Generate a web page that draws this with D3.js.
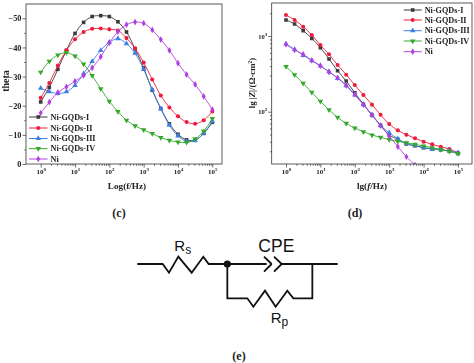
<!DOCTYPE html>
<html>
<head>
<meta charset="utf-8">
<script src="https://cdn.jsdelivr.net/npm/d3@7"></script>
<style>
  html, body { margin: 0; padding: 0; background: #fff; }
  svg { display: block; }
  text { font-family: "Liberation Serif", serif; font-weight: bold; fill: #222; }
  .circ text { font-family: "Liberation Sans", sans-serif; font-weight: normal; fill: #111; }
  .panel { filter: blur(0.35px); }
</style>
</head>
<body>
<div id="main"></div>
<script>
// frequencies, 4 points per decade
var freq = [1,1.78,3.16,5.62,10,17.8,31.6,56.2,100,178,316,562,1000,1780,3160,5620,10000,17800,31600,56200,100000];
var names = ["Ni-GQDs-I","Ni-GQDs-II","Ni-GQDs-III","Ni-GQDs-IV","Ni"];
var colors = ["#3a3a3a","#ee1c3c","#3b7fe6","#35a82c","#b23fe0"];
var shapes = [d3.symbolSquare, d3.symbolCircle, d3.symbolTriangle, "down", d3.symbolDiamond];

// panel c: theta
var thetaI = [-21.3,-26.3,-32.5,-39,-44.8,-48.6,-50.6,-50.9,-50.6,-48.8,-45.3,-39.5,-33,-25.3,-19,-13.8,-10.2,-8.3,-8.2,-10.5,-14.3];
var thetaII = [-22.7,-27.8,-33.8,-39,-42.8,-45.3,-46.4,-46.5,-46.2,-45.8,-43.2,-39.7,-34.8,-29,-23.5,-19.4,-16.4,-14.4,-13.8,-15,-18];
var thetaIII = [-26,-24.8,-24.2,-24.8,-27,-31,-35.2,-39,-41.8,-43,-41.3,-38,-32.5,-25.5,-19,-13.3,-9.6,-7.8,-8,-10.6,-14.6];
var thetaIV = [-31.5,-35.2,-37.4,-38.2,-37,-34.3,-30.3,-25.8,-21.5,-18,-15,-13.1,-11.7,-10.4,-9.1,-8.1,-7.5,-7.4,-8.6,-11.3,-15.6];
var thetaNi = [-17.5,-21.2,-24.5,-26.5,-28.4,-30.4,-33,-36.8,-41.6,-45.4,-47.8,-48.7,-48.3,-46,-42.7,-39,-34.6,-30.7,-27.3,-23.2,-18.7];

// panel d: |Z|
var zI = [1627,1441,1176,931,701,496,348,254,178,125,90.4,65.9,49.2,43.1,37.4,35.5,33.4,32.1,31.5,30.2,28.1];
var zII = [1895,1627,1328,1031,760,573,414,308,225,166,124,91,68.7,56.7,49.7,44.5,40.2,37,34.5,32.1,28.7];
var zIII = [784,667,555,472,402,338,276,221,166,125,90.4,65.9,52.7,44,38.1,35.5,33.4,32.1,31.5,30.4,28.7];
var zIV = [393,308,237,180,137,106,84,70,60.8,54.4,49.2,45.8,42.7,40.6,38.9,37,35.2,33.4,31.5,29.9,27.9];
var zNi = [776,653,573,477,406,334,281,223,169,124,90.4,65.3,47.7,34.5,25.4,19.7];

var xTicks = [1,10,100,1000,10000,100000];
var xExps = [0,1,2,3,4,5];
var thetaTicks = [0,-10,-20,-30,-40,-50];
var thetaMinor = [-5,-15,-25,-35,-45];
var zTicks = [100,1000];
var zExps = [2,3];

var svg = d3.select("#main").append("svg").attr("width", 474).attr("height", 363);

function minorLog(lo, hi) {
  var out = [];
  for (var e = lo; e < hi; e++) {
    for (var m = 2; m < 10; m++) out.push(m * Math.pow(10, e));
  }
  return out;
}

function pow10Label(sel, exps) {
  sel.each(function (d, i) {
    var t = d3.select(this).text("10");
    t.append("tspan").attr("dy", -3).attr("font-size", 5).text(exps[i]);
  });
}

function symbolFor(s, size) {
  if (s === "down") {
    return d3.symbol().type(d3.symbolTriangle).size(size)() ;
  }
  return d3.symbol().type(s).size(size)();
}

function drawPanel(id, box, x, y, series) {
  var g = svg.append("g").attr("class", "panel");
  var clipId = "clip" + id;
  g.append("clipPath").attr("id", clipId).append("rect")
    .attr("x", box.l).attr("y", box.t).attr("width", box.r - box.l).attr("height", box.b - box.t);

  var line = d3.line()
    .x(function (d) { return x(d[0]); })
    .y(function (d) { return y(d[1]); })
    .curve(d3.curveCatmullRom);

  var plot = g.append("g").attr("clip-path", "url(#" + clipId + ")");
  series.forEach(function (vals, k) {
    var pts = vals.map(function (v, i) { return [freq[i], v]; });
    plot.append("path").datum(pts)
      .attr("d", line).attr("fill", "none")
      .attr("stroke", colors[k]).attr("stroke-width", 0.9);
    plot.selectAll(".m" + k).data(pts).enter().append("path")
      .attr("d", symbolFor(shapes[k], 13))
      .attr("fill", colors[k])
      .attr("transform", function (d) {
        var flip = shapes[k] === "down" ? " scale(1,-1)" : "";
        return "translate(" + x(d[0]) + "," + y(d[1]) + ")" + flip;
      });
  });

  g.append("rect")
    .attr("x", box.l).attr("y", box.t).attr("width", box.r - box.l).attr("height", box.b - box.t)
    .attr("fill", "none").attr("stroke", "#333").attr("stroke-width", 0.8);
  return g;
}

function styleAxis(a, size) {
  a.select(".domain").remove();
  a.selectAll("line").attr("stroke", "#333").attr("stroke-width", 0.7);
  a.selectAll("text").attr("font-size", size).attr("font-family", '"Liberation Serif", serif').attr("font-weight", "bold").attr("fill", "#222");
}

function legend(g, lx, tx, ys) {
  names.forEach(function (n, k) {
    g.append("line").attr("x1", lx).attr("x2", tx - 3).attr("y1", ys[k]).attr("y2", ys[k])
      .attr("stroke", colors[k]).attr("stroke-width", 1);
    var flip = shapes[k] === "down" ? " scale(1,-1)" : "";
    g.append("path").attr("d", symbolFor(shapes[k], 13)).attr("fill", colors[k])
      .attr("transform", "translate(" + ((lx + tx - 3) / 2) + "," + ys[k] + ")" + flip);
    g.append("text").attr("x", tx).attr("y", ys[k] + 2.5).attr("font-size", 8.2).text(n);
  });
}

// ---- panel c
var boxC = {l: 26, r: 222, t: 4, b: 164};
var xC = d3.scaleLog().domain([1, 100000]).range([40.7, 212.3]);
var yC = d3.scaleLinear().domain([0, -50]).range([164, 18.3]);
var gC = drawPanel("c", boxC, xC, yC, [thetaI, thetaII, thetaIII, thetaIV, thetaNi]);

var axC = gC.append("g").attr("transform", "translate(0,164)")
  .call(d3.axisBottom(xC).tickValues(xTicks).tickSize(3.5).tickPadding(2));
styleAxis(axC, 7);
axC.selectAll("text").call(pow10Label, xExps);
var axCm = gC.append("g").attr("transform", "translate(0,164)")
  .call(d3.axisBottom(xC).tickValues(minorLog(0, 5)).tickSize(1.8).tickFormat(""));
styleAxis(axCm, 7);

var ayC = gC.append("g").attr("transform", "translate(26,0)")
  .call(d3.axisLeft(yC).tickValues(thetaTicks).tickSize(3.5).tickPadding(1));
styleAxis(ayC, 8.3);
var ayCm = gC.append("g").attr("transform", "translate(26,0)")
  .call(d3.axisLeft(yC).tickValues(thetaMinor).tickSize(1.8).tickFormat(""));
styleAxis(ayCm, 7);

gC.append("text").attr("transform", "translate(9,81) rotate(-90)")
  .attr("text-anchor", "middle").attr("font-size", 10).text("theta");
gC.append("text").attr("x", 127).attr("y", 189)
  .attr("text-anchor", "middle").attr("font-size", 9.2).text("Log(f/Hz)");
legend(gC, 29, 50.5, [117, 128, 138.5, 148.7, 159]);

// ---- panel d
var boxD = {l: 271.7, r: 472, t: 3, b: 164};
var xD = d3.scaleLog().domain([1, 100000]).range([286, 458]);
var yD = d3.scaleLog().domain([100, 1000]).range([111.7, 36]);
var gD = drawPanel("d", boxD, xD, yD, [zI, zII, zIII, zIV, zNi]);

var axD = gD.append("g").attr("transform", "translate(0,164)")
  .call(d3.axisBottom(xD).tickValues(xTicks).tickSize(3.5).tickPadding(2));
styleAxis(axD, 7);
axD.selectAll("text").call(pow10Label, xExps);
var axDm = gD.append("g").attr("transform", "translate(0,164)")
  .call(d3.axisBottom(xD).tickValues(minorLog(0, 5)).tickSize(1.8).tickFormat(""));
styleAxis(axDm, 7);

var ayD = gD.append("g").attr("transform", "translate(271.7,0)")
  .call(d3.axisLeft(yD).tickValues(zTicks).tickSize(3.5).tickPadding(1));
styleAxis(ayD, 6.5);
ayD.selectAll("text").call(pow10Label, zExps);
var ayDm = gD.append("g").attr("transform", "translate(271.7,0)")
  .call(d3.axisLeft(yD).tickValues([30,40,50,60,70,80,90,200,300,400,500,600,700,800,900,2000]).tickSize(1.8).tickFormat(""));
styleAxis(ayDm, 7);

var ylab = gD.append("text").attr("transform", "translate(255,83) rotate(-90)")
  .attr("text-anchor", "middle").attr("font-size", 8.8);
ylab.append("tspan").text("lg |");
ylab.append("tspan").attr("font-style", "italic").text("Z");
ylab.append("tspan").text("|/(Ω·cm");
ylab.append("tspan").attr("dy", -3).attr("font-size", 5.5).text("2");
ylab.append("tspan").attr("dy", 3).text(")");
var xlab = gD.append("text").attr("x", 372).attr("y", 189)
  .attr("text-anchor", "middle").attr("font-size", 9.2);
xlab.append("tspan").text("lg(");
xlab.append("tspan").attr("font-style", "italic").text("f");
xlab.append("tspan").text("/Hz)");
legend(gD, 403.7, 424.7, [10, 20, 30.7, 41, 51.7]);

// ---- panel captions
svg.append("text").attr("x", 119).attr("y", 217).attr("text-anchor", "middle").attr("font-size", 12).text("(c)");
svg.append("text").attr("x", 355).attr("y", 217).attr("text-anchor", "middle").attr("font-size", 12).text("(d)");
svg.append("text").attr("x", 239).attr("y", 360).attr("text-anchor", "middle").attr("font-size", 12).text("(e)");

// ---- equivalent circuit, drawn on the zoomed-crop grid
var cx = d3.scaleLinear().domain([0, 750]).range([110, 360]);
var cy = d3.scaleLinear().domain([0, 399]).range([230, 363]);
var wire = d3.line().x(function (d) { return cx(d[0]); }).y(function (d) { return cy(d[1]); });
var circ = svg.append("g").attr("class", "circ");
var wires = [
  [[82,102],[158,102],[177,128],[205,80],[245,128],[280,80],[296,102],[470,102]],
  [[485,102],[462,80]],
  [[485,102],[462,125]],
  [[515,102],[492,80]],
  [[515,102],[492,125]],
  [[515,102],[683,102]],
  [[352,102],[352,205],[412,205],[430,230],[465,182],[497,230],[532,182],[550,205],[607,205],[607,102]]
];
circ.selectAll("path").data(wires).enter().append("path")
  .attr("d", wire).attr("fill", "none").attr("stroke", "#111")
  .attr("stroke-width", 1.8).attr("stroke-linejoin", "miter");
circ.append("circle").attr("cx", cx(352)).attr("cy", cy(102)).attr("r", 3.6).attr("fill", "#111");

var rs = circ.append("text").attr("x", cx(193)).attr("y", cy(63)).attr("font-size", 15);
rs.append("tspan").text("R");
rs.append("tspan").attr("dy", 2.5).attr("font-size", 12).text("s");
circ.append("text").attr("x", cx(445)).attr("y", cy(66)).attr("font-size", 17.5).text("CPE");
var rp = circ.append("text").attr("x", cx(482)).attr("y", cy(278)).attr("font-size", 15);
rp.append("tspan").text("R");
rp.append("tspan").attr("dy", 3).attr("font-size", 12).text("p");
</script>
</body>
</html>
